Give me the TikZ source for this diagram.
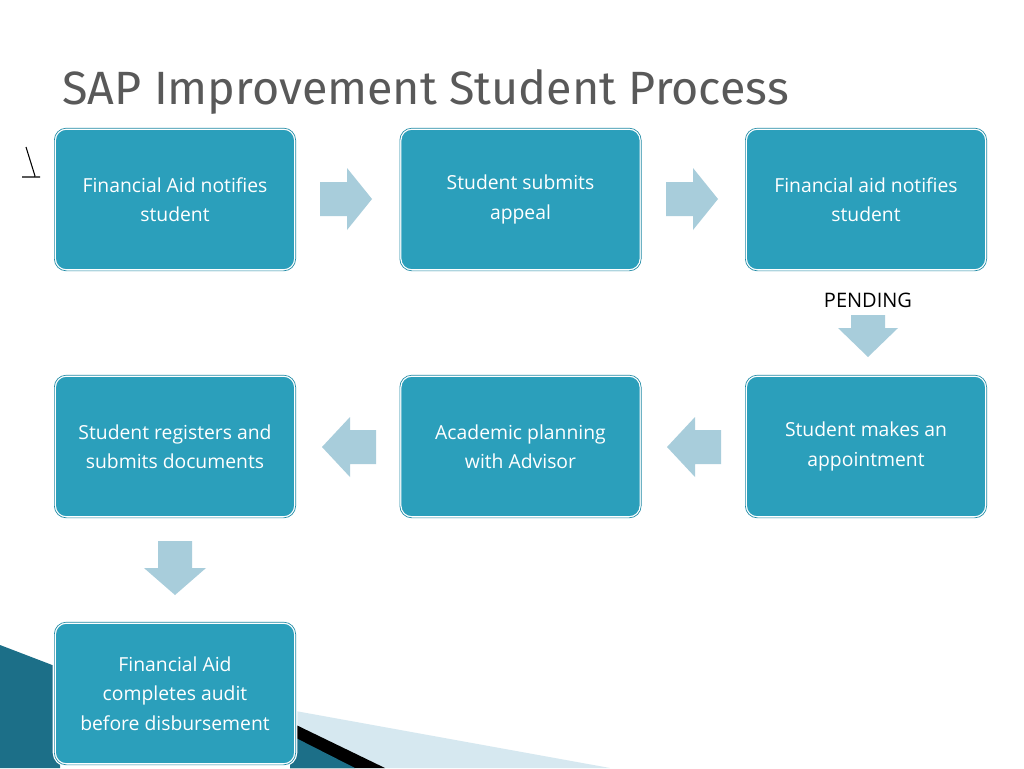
\documentclass[tikz,border=0pt]{standalone}
\usepackage{fontspec}
\setmainfont{Open Sans}
\newfontfamily\titlefont{Fira Sans}
\begin{document}
\begin{tikzpicture}[x=0.75pt,y=-0.75pt,
  box/.style={draw=white,line width=1.2pt,fill=boxc,rounded corners=9pt,minimum width=181pt,minimum height=107pt,
     text=white,align=center,font=\fontsize{14.5}{22}\selectfont,
     double=boxedge,double distance=0pt,
     postaction={draw=boxedge,line width=0.5pt}},
  arr/.style={fill=arrc}]
\definecolor{boxc}{HTML}{2B9FBB}
\definecolor{boxedge}{HTML}{1F8AA5}
\definecolor{arrc}{HTML}{A8CDDB}
\definecolor{tealdk}{HTML}{1C6F88}
\definecolor{lightst}{HTML}{D6E8F0}
\useasboundingbox (0,0) rectangle (1024,768);
\fill[white] (0,0) rectangle (1024,768);
% decoration
\fill[lightst] (290,710) -- (610,768) -- (290,768) -- cycle;
\fill[black] (290,722) -- (385,768) -- (290,768) -- cycle;
\fill[tealdk] (290,735) -- (355,768) -- (290,768) -- cycle;
\fill[tealdk] (0,645) -- (60,668) -- (60,768) -- (0,768) -- cycle;
\node[anchor=west,text=black!65,font=\titlefont\fontsize{35}{40}\selectfont] (title) at (58,92) {SAP Improvement Student Process};
\node[font=\fontsize{16}{18}\selectfont] (mark) at (31,163) {};
\draw[line width=0.8pt] (26,147) -- (35,176) (22,177) -- (40,177);
\node[box] (b1) at (175,199.5) {Financial Aid notifies\\student};
\node[box] (b2) at (520.5,199.5) {Student submits\\appeal};
\node[box] (b3) at (866,199.5) {Financial aid notifies\\student};
\node[box] (b4) at (866,446.5) {Student makes an\\appointment};
\node[box] (b5) at (520.5,446.5) {Academic planning\\with Advisor};
\node[box] (b6) at (175,446.5) {Student registers and\\submits documents};
\node[box] (b7) at (175,693.5) {Financial Aid\\completes audit\\before disbursement};
\node[font=\fontsize{15}{18}\selectfont,text=black] (pend) at (868,300) {PENDING};
% right arrows
\fill[arrc] (320,182) -- (347,182) -- (347,168) -- (372,199) -- (347,230) -- (347,216) -- (320,216) -- cycle;
\fill[arrc] (666,182) -- (693,182) -- (693,168) -- (718,199) -- (693,230) -- (693,216) -- (666,216) -- cycle;
% left arrows
\fill[arrc] (376,430) -- (350,430) -- (350,417) -- (322,447) -- (350,477) -- (350,464) -- (376,464) -- cycle;
\fill[arrc] (721,430) -- (695,430) -- (695,417) -- (667,447) -- (695,477) -- (695,464) -- (721,464) -- cycle;
% down arrows
\fill[arrc] (851,315) -- (885,315) -- (885,328) -- (898,328) -- (868,357) -- (838,328) -- (851,328) -- cycle;
\fill[arrc] (158,541) -- (192,541) -- (192,568) -- (206,568) -- (175,595) -- (144,568) -- (158,568) -- cycle;
\end{tikzpicture}
\end{document}
